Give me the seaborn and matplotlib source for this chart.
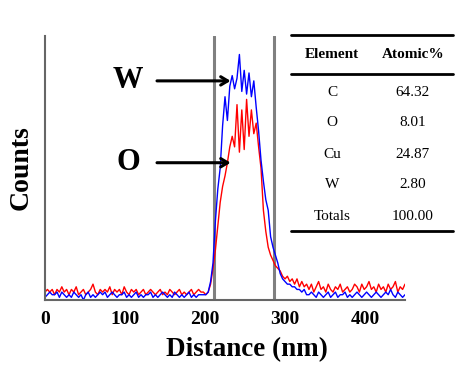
import numpy as np
import pandas as pd
import matplotlib
matplotlib.use('Agg')
import matplotlib.pyplot as plt
from matplotlib.lines import Line2D
import seaborn as sns

# line scan, 3 nm step, 0..450 nm
distance = np.arange(0, 451, 3)

counts_W = [1, 2, 3, 2, 2, 3, 1, 3, 2, 1,
            2, 1, 3, 2, 1, 2, 0, 2, 3, 1,
            2, 1, 2, 3, 2, 3, 1, 2, 3, 2,
            1, 2, 2, 3, 1, 2, 1, 2, 3, 1,
            2, 1, 2, 2, 3, 1, 2, 1, 2, 3,
            2, 1, 2, 1, 3, 2, 1, 2, 1, 2,
            3, 1, 2, 1, 2, 2, 2, 2, 3, 7,
            14, 30, 42, 50, 66, 77, 68, 81, 85, 80,
            84, 93, 79, 87, 78, 86, 77, 83, 73, 64,
            53, 45, 38, 34, 24, 20, 17, 14, 10, 8,
            7, 6, 6, 5, 5, 4, 4, 3, 4, 2,
            2, 3, 2, 1, 3, 2, 1, 2, 3, 1,
            2, 3, 1, 2, 2, 3, 1, 2, 1, 2,
            3, 2, 1, 2, 3, 2, 1, 2, 3, 2,
            1, 2, 3, 2, 4, 2, 1, 3, 2, 1, 2]

counts_O = [3, 4, 3, 4, 2, 4, 3, 5, 3, 4,
            2, 4, 3, 5, 2, 3, 4, 2, 3, 4,
            6, 3, 2, 4, 3, 4, 3, 5, 2, 4,
            3, 4, 2, 5, 3, 2, 4, 3, 4, 2,
            3, 4, 2, 3, 4, 3, 2, 3, 4, 2,
            3, 2, 4, 3, 2, 3, 4, 2, 3, 2,
            3, 4, 2, 3, 4, 3, 3, 2, 3, 6,
            12, 19, 28, 37, 43, 47, 52, 58, 62, 58,
            74, 56, 72, 57, 76, 62, 72, 63, 67, 58,
            50, 34, 26, 20, 17, 15, 13, 12, 11, 9,
            8, 9, 7, 8, 6, 8, 5, 7, 5, 6,
            4, 6, 3, 5, 7, 4, 5, 3, 6, 4,
            3, 5, 4, 6, 3, 4, 5, 3, 4, 6,
            5, 3, 6, 4, 5, 7, 4, 5, 3, 6,
            4, 5, 3, 6, 4, 5, 7, 3, 5, 4, 6]

boundaries = [211, 286]

elements = ['C', 'O', 'Cu', 'W', 'Totals']
atomic = ['64.32', '8.01', '24.87', '2.80', '100.00']

df = pd.DataFrame({
    'Distance': np.concatenate([distance, distance]),
    'Counts': counts_O + counts_W,
    'Element': ['O'] * len(distance) + ['W'] * len(distance),
})

sns.set_style('white')
plt.rcParams['font.family'] = ['Liberation Serif', 'DejaVu Serif']
plt.rcParams['text.color'] = 'black'
plt.rcParams['axes.labelcolor'] = 'black'
plt.rcParams['xtick.color'] = 'black'

fig = plt.figure(figsize=(4.74, 3.77), dpi=100)
ax = fig.add_axes([45 / 474, 1 - 300 / 377, 360 / 474, 264 / 377])

sns.lineplot(data=df, x='Distance', y='Counts', hue='Element',
             palette={'O': '#ff0000', 'W': '#0000ff'}, linewidth=1.0,
             legend=False, ax=ax)

for b in boundaries:
    ax.axvline(b, color='#808080', lw=2.2, zorder=0)

ax.set_xlim(0, 450)
ax.set_ylim(0, 100)
ax.set_xticks([0, 100, 200, 300, 400])
ax.set_yticks([])
ax.tick_params(axis='x', direction='out', length=4, width=1, color='#606060',
               labelsize=14, labelcolor='black', pad=4)
for lab in ax.get_xticklabels():
    lab.set_fontweight('bold')
for s in ['top', 'right']:
    ax.spines[s].set_visible(False)
for s in ['left', 'bottom']:
    ax.spines[s].set_color('#666666')
    ax.spines[s].set_linewidth(1.5)

ax.set_xlabel('Distance (nm)', fontsize=19.5, fontweight='bold')
ax.set_ylabel('Counts', fontsize=20, fontweight='bold')
ax.xaxis.set_label_coords((247 - 45) / 360, -0.14)
ax.yaxis.set_label_coords(-(45 - 34) / 360, 0.5)

# element arrows
arrow = dict(arrowstyle='->,head_length=0.5,head_width=0.3', color='black',
             lw=2.2, shrinkA=0, shrinkB=0)
ax.annotate('', xy=(232, 83), xytext=(140, 83), arrowprops=arrow)
ax.annotate('', xy=(232, 52), xytext=(140, 52), arrowprops=arrow)
ax.text(104, 83, 'W', fontsize=22, fontweight='bold', ha='center', va='center')
ax.text(104, 52, 'O', fontsize=22, fontweight='bold', ha='center', va='center')

# composition table
def fx(px):
    return px / 474

def fy(py):
    return 1 - py / 377

for py in [35, 74, 231]:
    fig.add_artist(Line2D([fx(291), fx(453)], [fy(py), fy(py)],
                          color='black', lw=2))
fig.text(fx(332), fy(55), 'Element', fontsize=11, fontweight='bold',
         ha='center', va='center')
fig.text(fx(413), fy(55), 'Atomic%', fontsize=11, fontweight='bold',
         ha='center', va='center')
row_y = [92, 123, 154, 185, 217]
for el, val, py in zip(elements, atomic, row_y):
    fig.text(fx(332), fy(py), el, fontsize=11, ha='center', va='center')
    fig.text(fx(413), fy(py), val, fontsize=11, ha='center', va='center')

fig.savefig('out.png', dpi=100)
